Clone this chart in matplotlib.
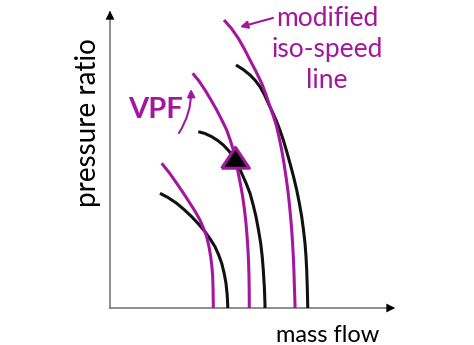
import matplotlib
matplotlib.use("Agg")

import numpy as np
import matplotlib.pyplot as plt

plt.rcParams["font.family"] = ["Lato", "DejaVu Sans"]

PURPLE = "#a3179e"
BLACK = "#111111"

# iso-speed lines, (mass flow, pressure ratio) pairs read top -> bottom
black_lines = [
    ([50, 58, 66.7, 74, 81.7, 88.5, 95, 100.5, 105, 108.7, 111.7, 114.2, 116, 117.2, 117.7, 117.7],
     [114.7, 110.5, 104.7, 98.5, 91.3, 84, 76.3, 68.5, 61.3, 53, 44.7, 34.5, 24.7, 13, 3, 0]),
    ([88.3, 95, 101.7, 107.7, 113.3, 118.5, 123.3, 127.7, 131.7, 136, 140, 143.2, 146, 148.5, 150.7, 152.2, 153.3, 154.4, 155, 155],
     [176.3, 174.5, 171.3, 167.5, 163, 157.5, 151.3, 143.5, 134.7, 125, 114.7, 103, 91.3, 78, 64.7, 51.5, 38, 20, 3, 0]),
    ([126, 133.2, 140, 145.3, 150, 154.3, 158.3, 162.2, 166, 169.7, 173.3, 176.7, 180, 183.5, 186.7, 189.4, 191.7, 193.5, 195, 196, 196.7, 197.3, 197.7, 197.7],
     [243, 238.5, 233, 227.5, 221.3, 213.5, 204.7, 196.5, 188, 178.5, 168, 156.5, 144.7, 131.5, 118, 104.5, 91.3, 78, 64.7, 51.5, 38, 20, 3, 0]),
]
modified_lines = [
    ([51.7, 59.5, 66.7, 73.5, 80, 85.2, 90, 93.6, 96.7, 99, 100.7, 101.9, 102.7, 103.1, 103.3, 103.3],
     [144.7, 135, 124.7, 114.7, 104.7, 96.5, 88, 79.5, 71.3, 61.3, 51.3, 41.3, 31.3, 17, 3, 0]),
    ([82.7, 89, 95, 101, 106.7, 111.8, 116.7, 120.2, 123.3, 126, 128.3, 130.6, 132.7, 134.5, 136, 137.1, 138, 138.6, 139, 139.2, 139.3, 139.3],
     [234.7, 227, 218, 208, 198, 188, 178, 168, 158, 146.5, 134.7, 123, 111.3, 98, 84.7, 71.3, 58, 44.7, 31.3, 17, 3, 0]),
    ([114, 121.5, 128.3, 134.4, 140, 146, 151.7, 156.1, 160, 163.5, 166.7, 169.3, 171.7, 174, 176, 177.8, 179.3, 180.6, 181.7, 182.6, 183.3, 183.9, 184.3, 184.7, 185, 185],
     [288, 279.5, 269.7, 259, 248, 236.5, 224.7, 213, 201.3, 191.5, 181.3, 169.5, 158, 144.5, 131.3, 118, 104.7, 91.3, 78, 64.7, 51.3, 38, 24.7, 13, 3, 0]),
]

# design point (triangle)
design_x = [125.5]
design_y = [150]

fig = plt.figure(figsize=(4.74, 3.45), dpi=100)
ax = fig.add_axes([0, 0, 1, 1])
ax.set_xlim(-110, 364)
ax.set_ylim(-37, 308)
ax.axis("off")

# axes with arrow heads
ax.plot([0, 0], [0, 296], color="#7a7a7a", lw=1.2)
ax.plot([0, 283], [0, 0], color="#7a7a7a", lw=1.2)
ax.annotate("", xy=(0, 300), xytext=(0, 288),
            arrowprops=dict(arrowstyle="-|>", color="black", lw=0, mutation_scale=16))
ax.annotate("", xy=(288, 0), xytext=(276, 0),
            arrowprops=dict(arrowstyle="-|>", color="black", lw=0, mutation_scale=16))

for xs, ys in black_lines:
    ax.plot(xs, ys, color=BLACK, lw=2.2, solid_joinstyle="round", solid_capstyle="butt")
for xs, ys in modified_lines:
    ax.plot(xs, ys, color=PURPLE, lw=2.2, solid_joinstyle="round", solid_capstyle="butt")

tri = [(-1, -0.7), (1, -0.7), (0, 0.8), (-1, -0.7)]
ax.plot(design_x, design_y, marker=tri, markersize=20, color="black",
        markeredgecolor=PURPLE, markeredgewidth=2.2, linestyle="none", zorder=5)

ax.text(-22, 185, "pressure ratio", rotation=90, ha="center", va="center",
        fontsize=20, color="black")
ax.text(218, -27, "mass flow", ha="center", va="center", fontsize=17, color="black")

ax.text(46, 198, "VPF", ha="center", va="center", fontsize=21, fontweight="bold",
        color=PURPLE)
ax.annotate("", xy=(81, 219), xytext=(69, 175),
            arrowprops=dict(arrowstyle="-|>", color=PURPLE, lw=1.5, mutation_scale=11,
                            connectionstyle="arc3,rad=0.15", shrinkA=0, shrinkB=0))

ax.text(217, 258, "modified\niso-speed\nline", ha="center", va="center",
        fontsize=19, color=PURPLE, linespacing=1.3)
ax.annotate("", xy=(130, 281), xytext=(163, 290),
            arrowprops=dict(arrowstyle="-|>", color=PURPLE, lw=1.5, mutation_scale=11,
                            shrinkA=0, shrinkB=0))

fig.savefig("out.png", dpi=100)
